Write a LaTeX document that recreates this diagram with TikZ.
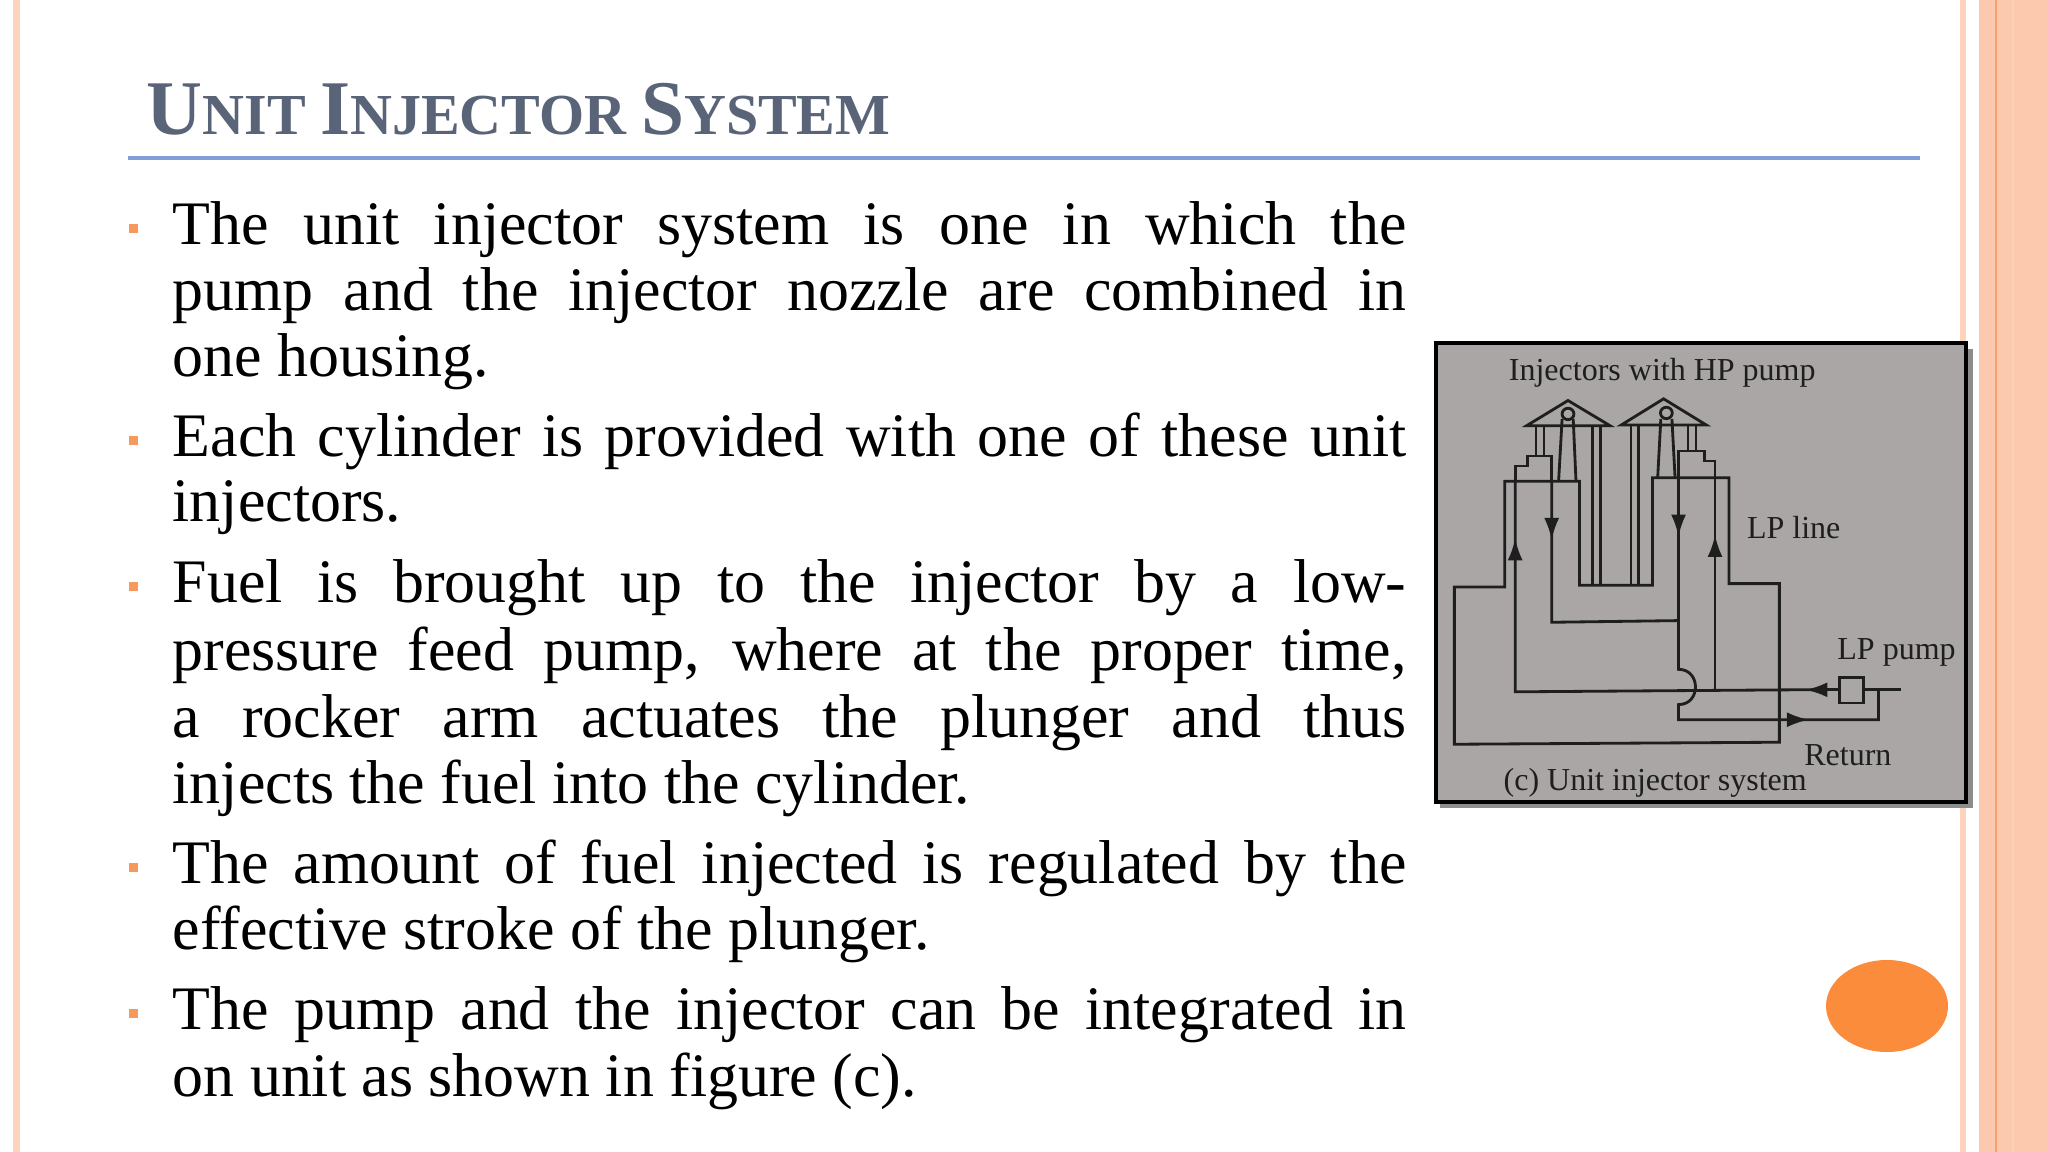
\documentclass[tikz,border=0pt]{standalone}
\usepackage{fontspec}
\setmainfont{Liberation Serif}
\definecolor{peach}{HTML}{FCC8AE}
\definecolor{peachline}{HTML}{F7A070}
\definecolor{titlec}{HTML}{5A6478}
\definecolor{rulec}{HTML}{7F9FD6}
\definecolor{bulc}{HTML}{F59A5C}
\definecolor{figbg}{HTML}{A9A6A5}
\definecolor{ink}{HTML}{1E1E1E}
\definecolor{dot}{HTML}{FB8C3C}
\tikzset{
 body/.style={anchor=base west, inner sep=0pt, font=\fontsize{17.6}{20}\selectfont, text=black},
 bul/.style={fill=bulc, minimum size=9*0.01cm, inner sep=0pt},
 pipe/.style={draw=ink, line width=0.8pt},
 flow/.style={-{Latex[length=2.2mm,width=1.5mm]}, ink, line width=0.8pt},
 lab/.style={anchor=base west, inner sep=0pt, font=\fontsize{9.1}{10}\selectfont, text=ink}
}
\usetikzlibrary{arrows.meta}
\newcommand{\jline}[1]{\makebox[12.33cm][s]{#1}}
\begin{document}
\begin{tikzpicture}[x=0.01cm,y=-0.01cm]
\useasboundingbox (0,0) rectangle (2048,1152);
\fill[white] (0,0) rectangle (2048,1152);
% side borders
\fill[peach!80] (13,0) rectangle (20,1152);
\fill[peach!80] (1960,0) rectangle (1966,1152);
\fill[peach] (1979,0) rectangle (2048,1152);
\draw[peachline, line width=0.8pt] (1996,0) -- (1996,1152);
\draw[peachline!50, line width=0.6pt] (2013,0) -- (2013,1152);
% title
\node[anchor=base west, inner sep=0pt, text=titlec, font=\bfseries] (title) at (146,135)
 {\fontsize{22}{24}\selectfont U\fontsize{16.5}{20}\selectfont NIT \fontsize{22}{24}\selectfont I\fontsize{16.5}{20}\selectfont NJECTOR \fontsize{22}{24}\selectfont S\fontsize{16.5}{20}\selectfont YSTEM};
\draw[rulec, line width=1.3pt] (128,158) -- (1920,158);
% bullets
\node[bul] (b1) at (133,229) {};
\node[bul] (b2) at (133,441) {};
\node[bul] (b3) at (133,587) {};
\node[bul] (b4) at (133,867) {};
\node[bul] (b5) at (133,1013) {};
% body text
\node[body] (l1) at (172,245) {\jline{The unit injector system is one in which the}};
\node[body] (l2) at (172,311) {\jline{pump and the injector nozzle are combined in}};
\node[body] (l3) at (172,377) {one housing.};
\node[body] (l4) at (172,457) {\jline{Each cylinder is provided with one of these unit}};
\node[body] (l5) at (172,522) {injectors.};
\node[body] (l6) at (172,603) {\jline{Fuel is brought up to the injector by a low-}};
\node[body] (l7) at (172,670) {\jline{pressure feed pump, where at the proper time,}};
\node[body] (l8) at (172,737) {\jline{a rocker arm actuates the plunger and thus}};
\node[body] (l9) at (172,803) {injects the fuel into the cylinder.};
\node[body] (l10) at (172,883) {\jline{The amount of fuel injected is regulated by the}};
\node[body] (l11) at (172,949) {effective stroke of the plunger.};
\node[body] (l12) at (172,1029) {\jline{The pump and the injector can be integrated in}};
\node[body] (l13) at (172,1096) {on unit as shown in figure (c).};
% orange dot
\fill[dot] (1887,1006) ellipse [x radius=61, y radius=46];
% figure
\fill[black!45] (1440,349) rectangle (1973,808);
\draw[black, line width=1.3pt, fill=figbg] (1436,343) rectangle (1966,802);
\begin{scope}[shift={(1430,335)}, xscale=0.3476, yscale=0.336]
 % housing outline
 \draw[pipe] (70,1218) -- (70,750) -- (215,750) -- (215,435) -- (430,435) -- (430,745)
   -- (640,745) -- (640,425) -- (860,425) -- (860,740) -- (1005,740) -- (1005,1212) -- cycle;
 % left injector
 \draw[pipe] (278,270) -- (397,195) -- (518,270) -- cycle;
 \draw[pipe] (397,235) circle (17);
 \draw[pipe] (305,270) -- (305,360) (328,270) -- (328,360);
 \draw[pipe] (380,250) -- (370,435) (412,250) -- (420,435);
 \draw[pipe] (468,270) -- (468,745) (490,270) -- (490,745);
 \draw[pipe] (245,435) -- (245,390) -- (280,390) -- (280,360) -- (350,360) -- (350,435);
 % right injector
 \draw[pipe] (550,268) -- (672,190) -- (795,268) -- cycle;
 \draw[pipe] (680,232) circle (17);
 \draw[pipe] (578,268) -- (578,745) (600,268) -- (600,745);
 \draw[pipe] (664,250) -- (655,425) (696,250) -- (705,425);
 \draw[pipe] (742,268) -- (742,345) (765,268) -- (765,345);
 \draw[pipe] (715,425) -- (715,345) -- (790,345) -- (790,375) -- (820,375) -- (820,425);
 % LP supply line
 \draw[pipe] (1355,1055) -- (1248,1055);
 \draw[pipe] (1178,1055) -- (245,1062) -- (245,435);
 \draw[pipe] (820,1057) -- (820,425);
 \draw[pipe, fill=figbg] (1178,1020) rectangle (1248,1095);
 % return line with crossing bump
 \draw[pipe] (350,435) -- (350,855) -- (715,850) -- (715,995)
   .. controls (780,995) and (780,1100) .. (715,1100) -- (715,1145) -- (1290,1145) -- (1290,1058);
 \draw[pipe] (715,425) -- (715,850);
 % arrows
 \draw[flow] (245,660) -- (245,605);
 \draw[flow] (820,650) -- (820,595);
 \draw[flow] (350,545) -- (350,610);
 \draw[flow] (715,545) -- (715,600);
 \draw[flow] (1130,1056) -- (1080,1056);
 \draw[flow] (1030,1145) -- (1090,1145);
 % labels
 \node[lab] (t1) at (225,135) {Injectors with HP pump};
 \node[lab] (t2) at (910,605) {LP line};
 \node[lab] (t3) at (1170,965) {LP pump};
 \node[lab] (t4) at (1075,1280) {Return};
 \node[lab] (t5) at (210,1355) {(c) Unit injector system};
\end{scope}
\end{tikzpicture}
\end{document}
